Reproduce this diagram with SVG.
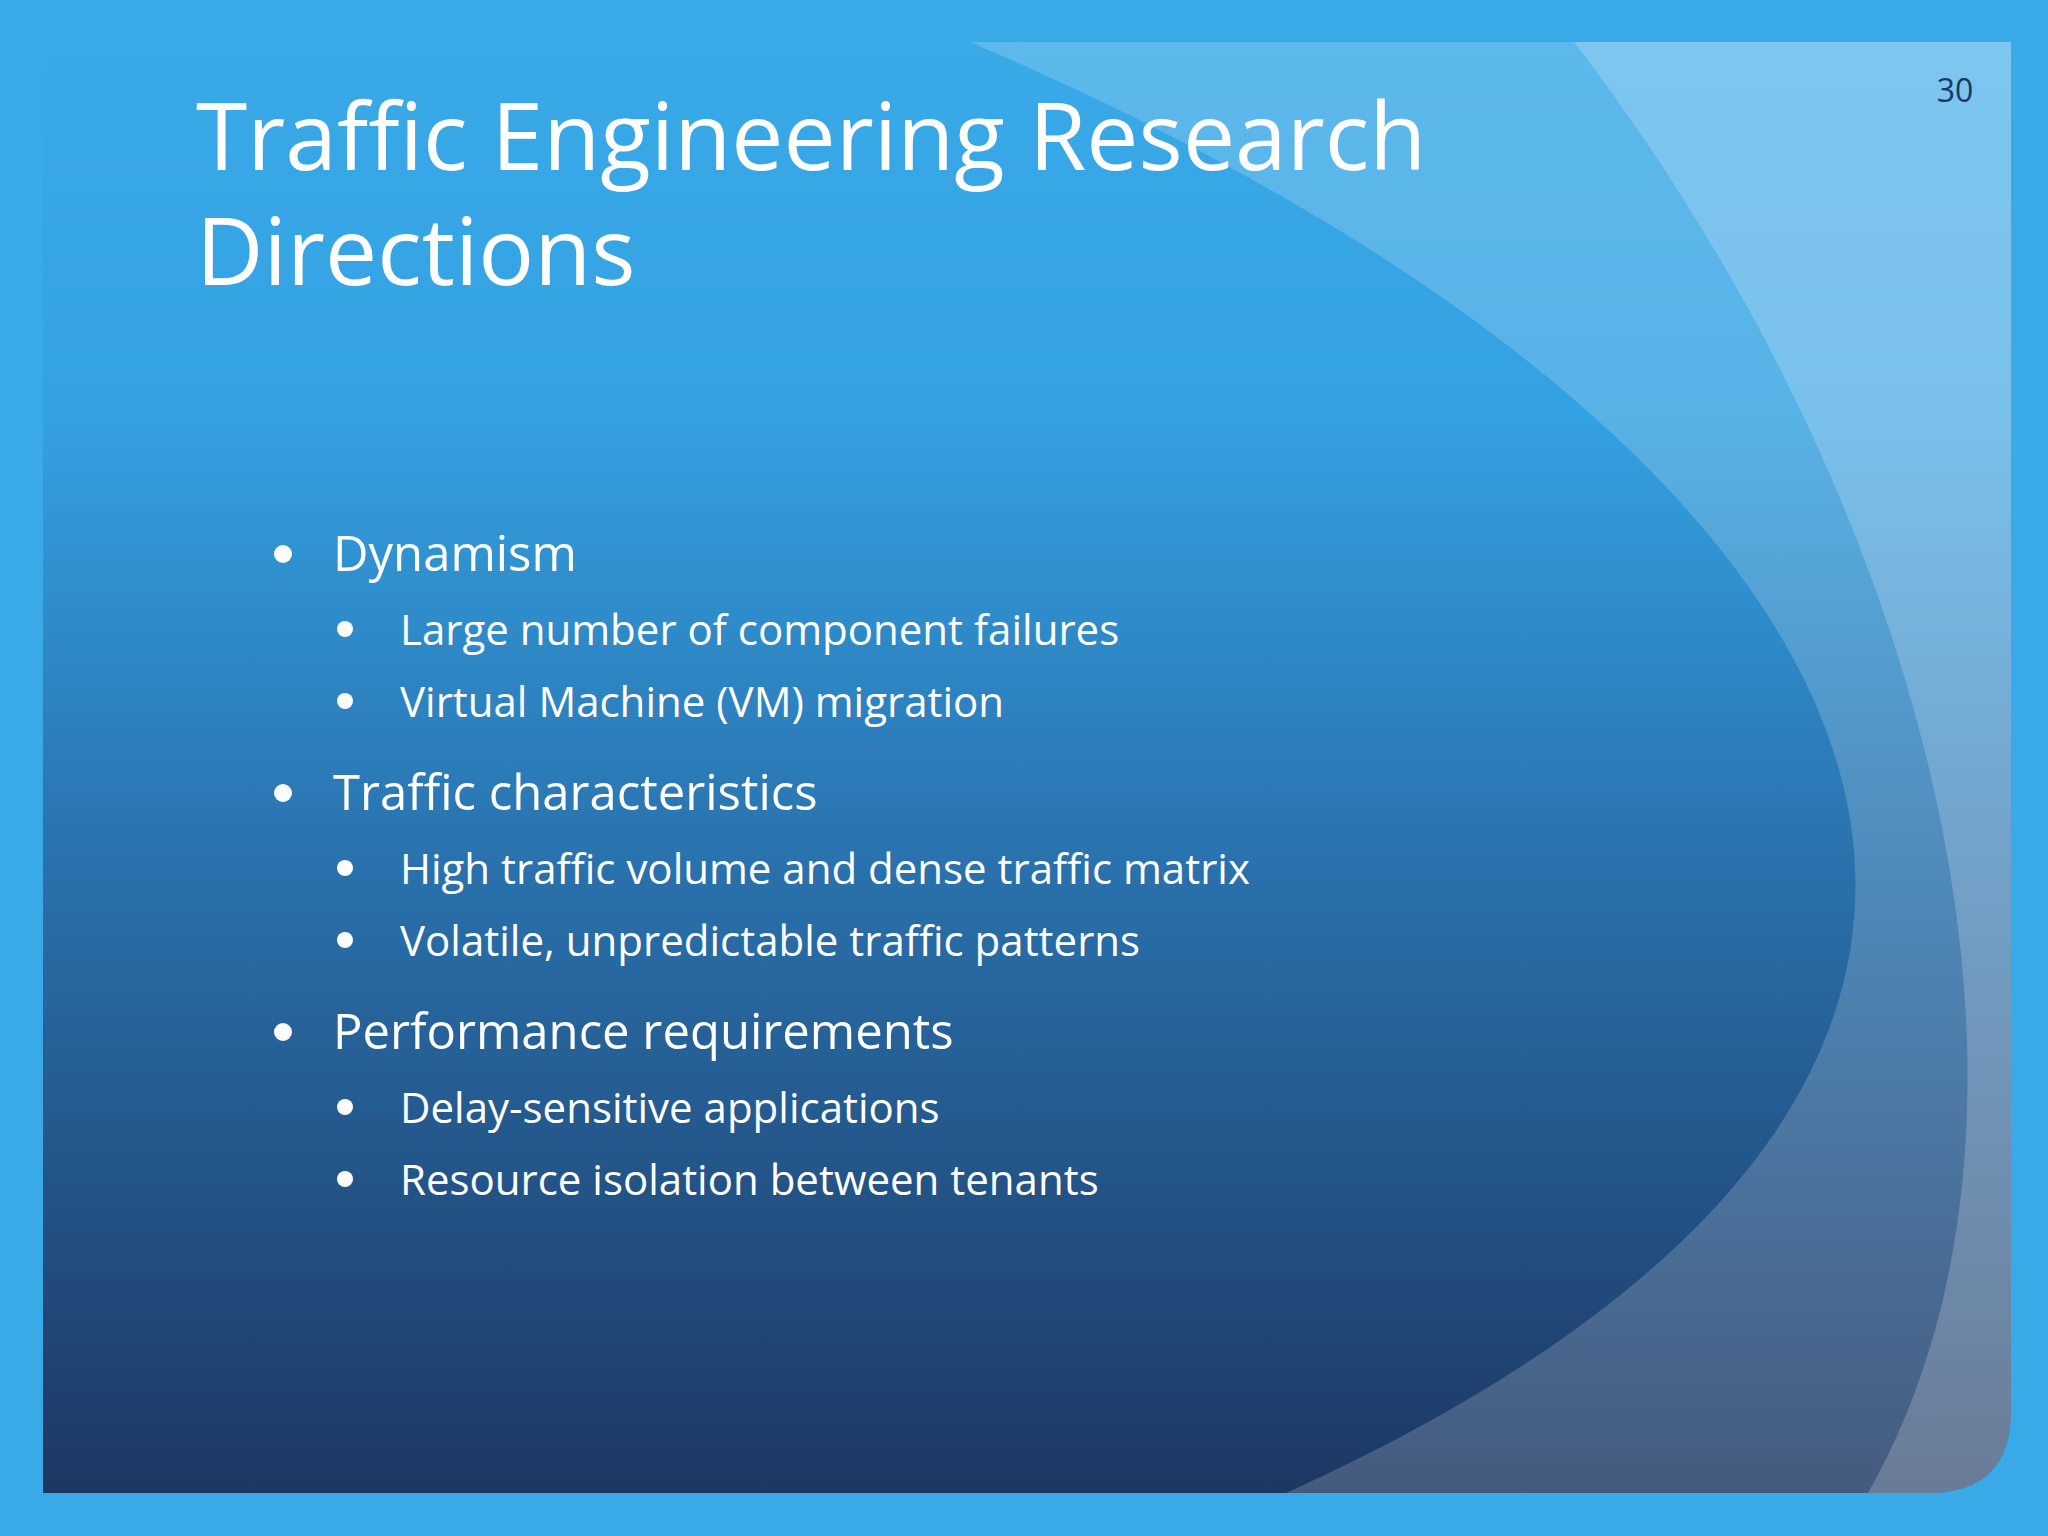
<svg xmlns="http://www.w3.org/2000/svg" width="2048" height="1536" viewBox="0 0 2048 1536">
<defs>
<linearGradient id="bg" x1="0" y1="0" x2="0" y2="1">
<stop offset="0" stop-color="#3AA9E8"/>
<stop offset="0.25" stop-color="#34A2E2"/>
<stop offset="0.55" stop-color="#2A74B0"/>
<stop offset="1" stop-color="#1D3762"/>
</linearGradient>
<clipPath id="panel"><path d="M43,42 H2011 V1410 Q2011,1493 1928,1493 H43 Z"/></clipPath>
</defs>
<style>
.t{font-family:"Open Sans","DejaVu Sans",sans-serif;fill:#FFFFFF}
.l1{font-size:49px}
.l2{font-size:42px}
</style>
<rect width="2048" height="1536" fill="#3AA9E8"/>
<g clip-path="url(#panel)">
<rect x="43" y="42" width="1968" height="1451" fill="url(#bg)"/>
<path d="M970,42 C1900,440 2240,1060 1286,1493 L2011,1493 L2011,42 Z" fill="#FFFFFF" fill-opacity="0.18"/>
<path d="M1574,42 C1940,520 2080,1120 1868,1493 L2011,1493 L2011,42 Z" fill="#FFFFFF" fill-opacity="0.2"/>
</g>
<text class="t" x="1955" y="102" font-size="32" text-anchor="middle" style="fill:#1D3762">30</text>
<text class="t" x="196" y="170" font-size="93">Traffic Engineering Research</text>
<text class="t" x="196" y="285" font-size="93">Directions</text>
<g class="t">
<circle cx="283" cy="554" r="9"/><text class="l1" x="333" y="571">Dynamism</text>
<circle cx="345" cy="629" r="8"/><text class="l2" x="400" y="645">Large number of component failures</text>
<circle cx="345" cy="701" r="8"/><text class="l2" x="400" y="717">Virtual Machine (VM) migration</text>
<circle cx="283" cy="793" r="9"/><text class="l1" x="333" y="810">Traffic characteristics</text>
<circle cx="345" cy="868" r="8"/><text class="l2" x="400" y="884">High traffic volume and dense traffic matrix</text>
<circle cx="345" cy="940" r="8"/><text class="l2" x="400" y="956">Volatile, unpredictable traffic patterns</text>
<circle cx="283" cy="1032" r="9"/><text class="l1" x="333" y="1049">Performance requirements</text>
<circle cx="345" cy="1107" r="8"/><text class="l2" x="400" y="1123">Delay-sensitive applications</text>
<circle cx="345" cy="1179" r="8"/><text class="l2" x="400" y="1195">Resource isolation between tenants</text>
</g>
</svg>
